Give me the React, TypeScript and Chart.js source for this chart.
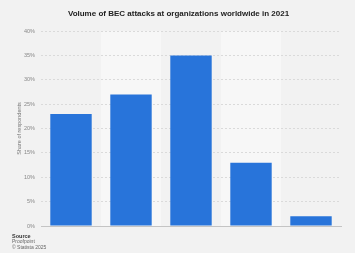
import React, { useEffect, useRef } from "react";
import { Chart, registerables } from "chart.js";

Chart.register(...registerables);

const TITLE = "Volume of BEC attacks at organizations worldwide in 2021";
const Y_TITLE = "Share of respondents";
const SOURCE_LINES = ["Source", "Proofpoint", "© Statista 2025"];
const categories = ["Category 1", "Category 2", "Category 3", "Category 4", "Category 5"];
const values = [23, 27, 35, 13, 2];
const yTicks = [0, 5, 10, 15, 20, 25, 30, 35, 40];

const FONT = "'Liberation Sans', Arial, sans-serif";

const decorPlugin = {
  id: "decor",
  beforeDraw(chart: any) {
    const { ctx, chartArea, scales } = chart;
    ctx.save();
    ctx.fillStyle = "#f2f2f2";
    ctx.fillRect(0, 0, chart.width, chart.height);
    const x = scales.x;
    const step = (chartArea.right - chartArea.left) / categories.length;
    ctx.fillStyle = "#f7f7f7";
    categories.forEach((_, i) => {
      if (i % 2 === 1) {
        const cx = x.getPixelForValue(i);
        ctx.fillRect(cx - step / 2, chartArea.top, step, chartArea.bottom - chartArea.top);
      }
    });
    ctx.restore();
  },
  afterDraw(chart: any) {
    const { ctx, chartArea } = chart;
    ctx.save();
    ctx.fillStyle = "#222";
    ctx.font = `bold 8px ${FONT}`;
    ctx.textAlign = "center";
    ctx.textBaseline = "middle";
    ctx.fillText(TITLE, chart.width / 2 + 1, 13.5);

    ctx.save();
    ctx.translate(19, (chartArea.top + chartArea.bottom) / 2);
    ctx.rotate(-Math.PI / 2);
    ctx.fillStyle = "#777";
    ctx.font = `5.5px ${FONT}`;
    ctx.fillText(Y_TITLE, 0, 0);
    ctx.restore();

    ctx.textAlign = "left";
    ctx.font = `bold 5.5px ${FONT}`;
    ctx.fillStyle = "#333";
    ctx.fillText(SOURCE_LINES[0], 12, 236);
    ctx.font = `5px ${FONT}`;
    ctx.fillStyle = "#666";
    ctx.fillText(SOURCE_LINES[1], 12, 242);
    ctx.fillText(SOURCE_LINES[2], 12, 247.5);
    ctx.restore();
  },
};

export default function App() {
  const ref = useRef<HTMLCanvasElement>(null);
  useEffect(() => {
    document.body.style.margin = "0";
    const chart = new Chart(ref.current!, {
      type: "bar",
      data: {
        labels: categories,
        datasets: [
          {
            data: values,
            backgroundColor: "#2874da",
            barPercentage: 0.69,
            categoryPercentage: 1,
          },
        ],
      },
      options: {
        animation: false,
        responsive: false,
        maintainAspectRatio: false,
        layout: { padding: { top: 31, bottom: 19, left: 0, right: 14 } },
        plugins: { legend: { display: false }, title: { display: false }, tooltip: { enabled: false } },
        scales: {
          x: {
            ticks: { display: false },
            grid: { display: false },
            border: { display: true, color: "#c4c4c4", width: 1 },
          },
          y: {
            min: 0,
            max: 40,
            afterFit: (s: any) => {
              s.width = 41;
            },
            afterBuildTicks: (s: any) => {
              s.ticks = yTicks.map((v) => ({ value: v }));
            },
            ticks: {
              padding: 6,
              color: "#888",
              font: { size: 5.5, family: FONT },
              callback: (v: any) => `${v}%`,
            },
            grid: { color: "#dadada", drawTicks: false, lineWidth: 1 },
            border: { display: false, dash: [2, 2] },
          },
        },
      },
      plugins: [decorPlugin],
    });
    return () => chart.destroy();
  }, []);
  return (
    <div style={{ position: "fixed", left: 0, top: 0, width: 355, height: 253, background: "#f2f2f2" }}>
      <canvas ref={ref} width={355} height={253} style={{ width: 355, height: 253, display: "block" }} />
    </div>
  );
}
